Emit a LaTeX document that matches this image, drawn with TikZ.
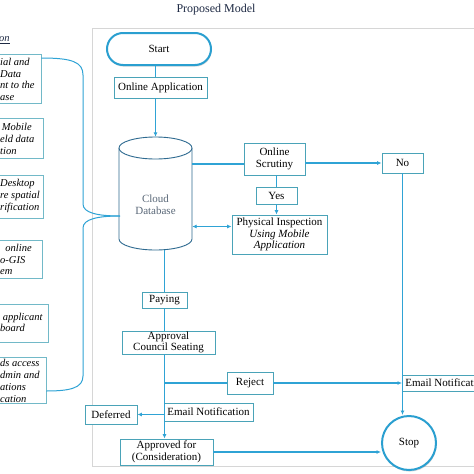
\documentclass[tikz,border=0pt]{standalone}
\usepackage{fontspec}
\setmainfont{Liberation Serif}
\usetikzlibrary{arrows.meta,calc,shadows}
\definecolor{linec}{HTML}{2FA3D5}
\definecolor{boxc}{HTML}{4AA3B8}
\definecolor{termc}{HTML}{2A9FD0}
\definecolor{lboxc}{HTML}{72B9C8}
\definecolor{dbc}{HTML}{2E6A90}
\definecolor{dbtxt}{HTML}{5A6878}
\definecolor{framec}{HTML}{D6D6D6}
\definecolor{titlec}{HTML}{1E2A44}
\begin{document}
\begin{tikzpicture}[x=1pt,y=-1pt,
 fbox/.style={draw=boxc, line width=0.9pt, fill=white, inner sep=0pt, align=center, font=\fontsize{11}{11.6}\selectfont},
 term/.style={draw=termc, line width=2pt, fill=white, inner sep=0pt, font=\fontsize{11}{12}\selectfont,
   drop shadow={opacity=0.3, shadow xshift=0.6pt, shadow yshift=-1.6pt}},
 lbox/.style={draw=lboxc, line width=0.9pt, fill=white, inner sep=0pt},
 ltext/.style={anchor=west, inner sep=0pt, align=left, font=\fontsize{10.5}{11.8}\selectfont\itshape},
 flow/.style={draw=linec, line width=1.1pt},
 arr/.style={-{Latex[length=4.5pt,width=4pt]}},
 darr/.style={{Latex[length=4.5pt,width=4pt]}-{Latex[length=4.5pt,width=4pt]}}
]
\clip (0,0) rectangle (474,474);
\fill[white] (0,0) rectangle (474,474);

% title and frame
\node[font=\fontsize{12}{14}\selectfont, text=titlec] (title) at (216,10) {Proposed Model};
\draw[framec, line width=0.8pt] (92,466) -- (92,28) -- (474,28);
\draw[framec, line width=0.8pt] (92,466) -- (474,466);

% left panel
\node[anchor=west, inner sep=0pt, text=titlec, font=\fontsize{10.5}{12}\selectfont\itshape] (hd) at (-1,40) {\underline{on}};
\node[lbox, minimum width=61pt, minimum height=49pt] (L1) at (10.5,78.5) {};
\node[ltext] at (0,79.5) {ial and\\Data\\nt to the\\ase};
\node[lbox, minimum width=63pt, minimum height=40pt] (L2) at (11.5,138) {};
\node[ltext] at (0,139) {\,Mobile\\eld data\\tion};
\node[lbox, minimum width=63pt, minimum height=43pt] (L3) at (11.5,196.5) {};
\node[ltext] at (0,196) {Desktop\\re spatial\\rification};
\node[lbox, minimum width=62pt, minimum height=38pt] (L4) at (11,259) {};
\node[ltext] at (0,259.5) {\ \ online\\o-GIS\\em};
\node[lbox, minimum width=68pt, minimum height=38pt] (L5) at (14,323) {};
\node[ltext] at (0,322.5) {\ applicant\\board};
\node[lbox, minimum width=66pt, minimum height=46pt] (L6) at (13,380) {};
\node[ltext] at (0,381) {ds access\\dmin and\\ations\\cation};

% cylinder
\node[minimum width=73pt, minimum height=113pt, inner sep=0pt] (db) at (155.5,193.5) {};
\draw[dbc, line width=0.9pt, fill=white] (119,148) -- (119,239) arc[start angle=180,end angle=360,x radius=36.5pt,y radius=11pt] -- (192,148);
\draw[dbc, line width=0.9pt, fill=white] (155.5,148) ellipse[x radius=36.5pt, y radius=11pt];
\node[text=dbtxt, align=center, font=\fontsize{11}{12}\selectfont] (dbl) at (155.5,204.5) {Cloud\\Database};

% brace
\coordinate (tip) at (120,216);
\draw[linec, line width=1pt] (L1.east |- 0,58) .. controls (72,58) and (83,62) .. (83,75) -- (83,204) .. controls (83,213) and (98,216) .. (tip);
\draw[linec, line width=1pt] (tip) .. controls (98,216) and (83,219) .. (83,228) -- (83,376) .. controls (83,388) and (70,391) .. (L6.east |- 0,391);

% flow nodes
\node[term, rounded corners=16pt, minimum width=104pt, minimum height=32pt] (start) at (159,49) {Start};
\node[fbox, minimum width=93pt, minimum height=21pt] (app) at (160.5,87.5) {Online Application};
\node[fbox, minimum width=61pt, minimum height=32pt] (scr) at (274.5,159) {Online\\Scrutiny};
\node[fbox, minimum width=41pt, minimum height=20pt] (no) at (402.5,163) {No};
\node[fbox, minimum width=41pt, minimum height=17pt] (yes) at (276.5,195.5) {Yes};
\node[fbox, minimum width=95pt, minimum height=39pt] (phys) at (279.5,234.5) {Physical Inspection\\\textit{Using Mobile}\\\textit{Application}};
\node[fbox, minimum width=45pt, minimum height=16pt] (pay) at (164.5,300) {Paying};
\node[fbox, minimum width=93pt, minimum height=23pt] (appr) at (168.5,342.5) {Approval\\Council Seating};
\node[fbox, minimum width=46pt, minimum height=22pt] (rej) at (250,383) {Reject};
\node[fbox, inner xsep=3pt, minimum height=16pt, anchor=west] (em2) at (402,383) {Email Notification};
\node[fbox, minimum width=89pt, minimum height=18pt] (em1) at (208.5,412) {Email Notification};
\node[fbox, minimum width=52pt, minimum height=19pt] (def) at (111,414.5) {Deferred};
\node[fbox, minimum width=93pt, minimum height=26pt] (apv) at (166.5,452) {Approved for\\(Consideration)};
\node[term, circle, minimum size=54pt] (stop) at (409,443) {Stop};

% connectors
\draw[flow] (start.south -| db.north) -- (app.north -| db.north);
\draw[flow,arr] (app.south -| db.north) -- (db.north);
\draw[flow] ([yshift=-5pt]scr.west) -- ([yshift=-5pt]scr.west -| db.east);
\draw[flow,arr] (scr.east |- no.west) -- (no.west);
\draw[flow] (yes.north |- scr.south) -- (yes.north);
\draw[flow,arr] (yes.south) -- (yes.south |- phys.north);
\draw[flow,darr] ([yshift=8pt]phys.west -| db.east) -- ([yshift=8pt]phys.west);
\draw[flow] (pay.north |- db.south) -- (pay.north);
\draw[flow] (pay.south) -- (pay.south |- appr.north);
\draw[flow,arr] (appr.south -| pay) -- (apv.north -| pay);
\draw[flow] (rej.west -| pay) -- (rej.west);
\draw[flow,arr] (rej.east) -- (em2.west);
\draw[flow,arr] (no.south) -- (no.south |- stop.north);
\draw[flow,arr] (def.east -| pay) -- (def.east);
\draw[flow,arr] (apv.east) -- (stop.west |- apv.east);
\end{tikzpicture}
\end{document}
